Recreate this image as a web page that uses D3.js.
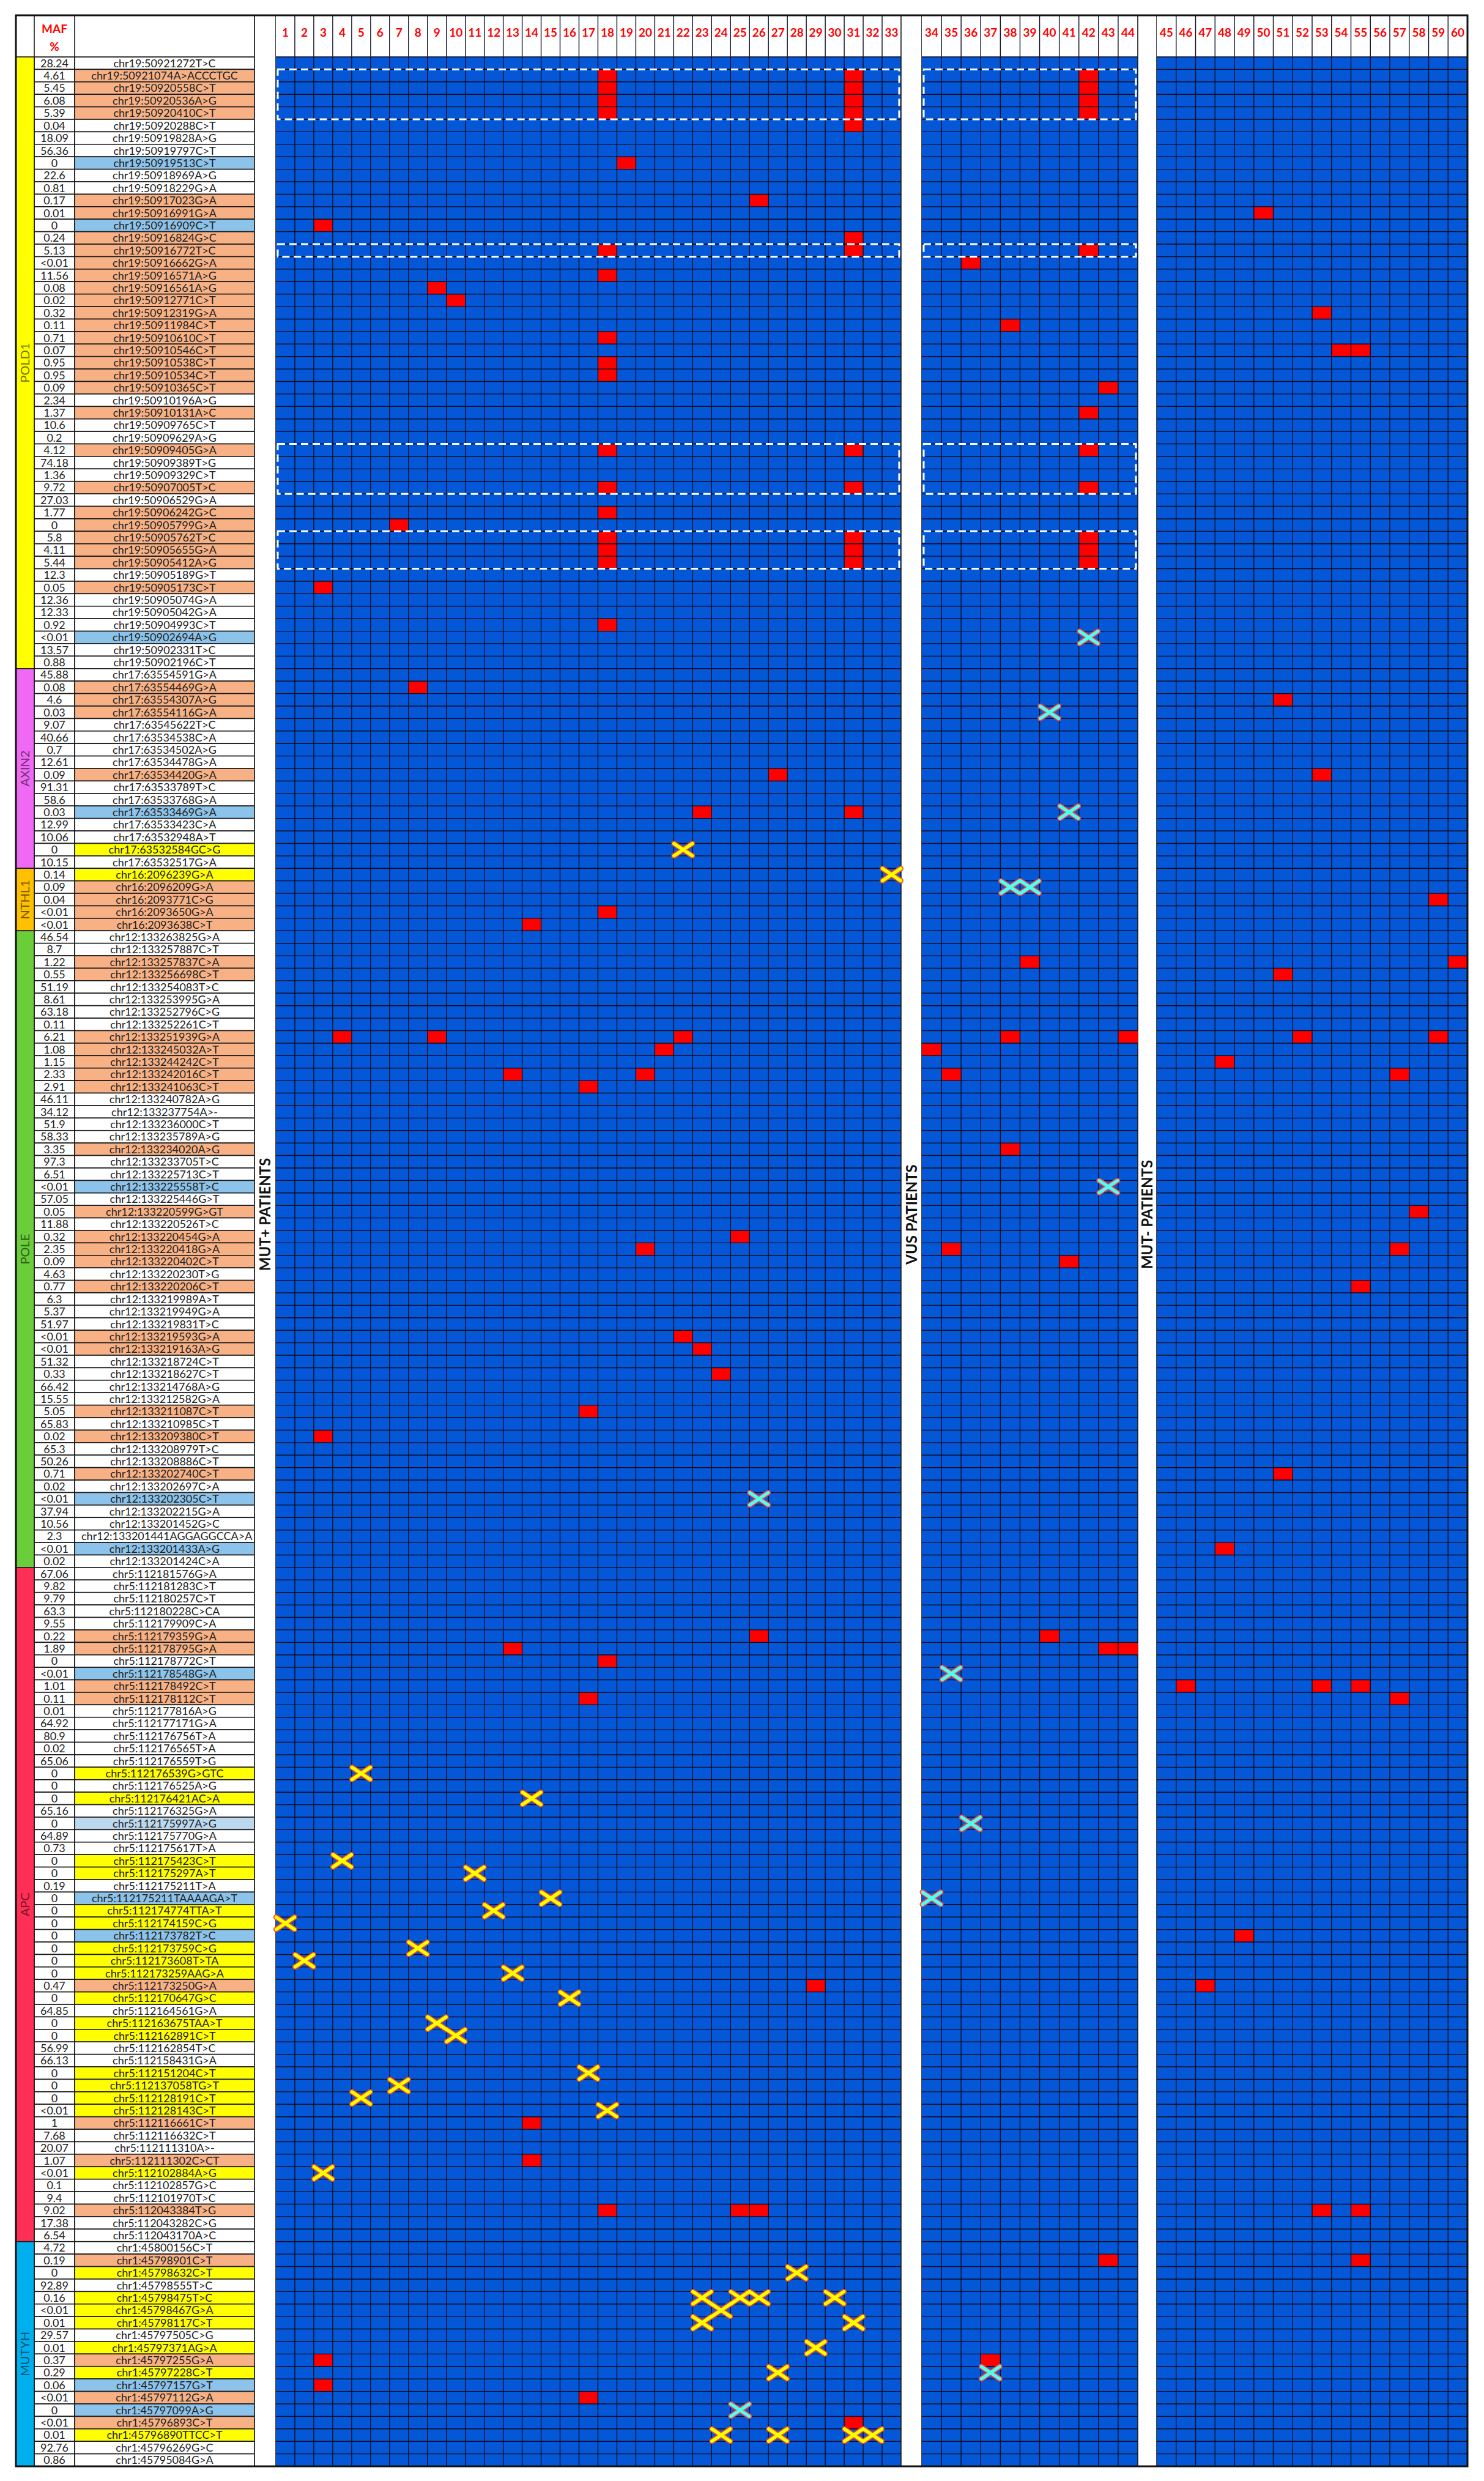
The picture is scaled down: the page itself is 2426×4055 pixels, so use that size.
<!DOCTYPE html>
<html>
<head>
<meta charset="utf-8">
<script src="https://cdn.jsdelivr.net/npm/d3@7"></script>
<style>
  body { margin: 0; background: #fff; }
  text { font-family: Lato, "Open Sans", "Liberation Sans", sans-serif; }
</style>
</head>
<body>
<svg id="chart"></svg>
<script>

// genes and how many variant rows each one has
var genes = ['POLD1', 'AXIN2', 'NTHL1', 'POLE', 'APC', 'MUTYH'];
var geneRows = [49, 16, 5, 51, 54, 18];

var mafs = [
    // POLD1
    '28.24','4.61','5.45','6.08','5.39','0.04','18.09','56.36','0','22.6',
    '0.81','0.17','0.01','0','0.24','5.13','<0.01','11.56','0.08','0.02',
    '0.32','0.11','0.71','0.07','0.95','0.95','0.09','2.34','1.37','10.6',
    '0.2','4.12','74.18','1.36','9.72','27.03','1.77','0','5.8','4.11',
    '5.44','12.3','0.05','12.36','12.33','0.92','<0.01','13.57','0.88',
    // AXIN2
    '45.88','0.08','4.6','0.03','9.07','40.66','0.7','12.61','0.09','91.31',
    '58.6','0.03','12.99','10.06','0','10.15',
    // NTHL1
    '0.14','0.09','0.04','<0.01','<0.01',
    // POLE
    '46.54','8.7','1.22','0.55','51.19','8.61','63.18','0.11','6.21','1.08',
    '1.15','2.33','2.91','46.11','34.12','51.9','58.33','3.35','97.3','6.51',
    '<0.01','57.05','0.05','11.88','0.32','2.35','0.09','4.63','0.77','6.3',
    '5.37','51.97','<0.01','<0.01','51.32','0.33','66.42','15.55','5.05','65.83',
    '0.02','65.3','50.26','0.71','0.02','<0.01','37.94','10.56','2.3','<0.01',
    '0.02',
    // APC
    '67.06','9.82','9.79','63.3','9.55','0.22','1.89','0','<0.01','1.01',
    '0.11','0.01','64.92','80.9','0.02','65.06','0','0','0','65.16',
    '0','64.89','0.73','0','0','0.19','0','0','0','0',
    '0','0','0','0.47','0','64.85','0','0','56.99','66.13',
    '0','0','0','<0.01','1','7.68','20.07','1.07','<0.01','0.1',
    '9.4','9.02','17.38','6.54',
    // MUTYH
    '4.72','0.19','0','92.89','0.16','<0.01','0.01','29.57','0.01','0.37',
    '0.29','0.06','<0.01','0','<0.01','0.01','92.76','0.86'
];

var variants = [
    // POLD1
    'chr19:50921272T>C','chr19:50921074A>ACCCTGC','chr19:50920558C>T','chr19:50920536A>G','chr19:50920410C>T',
    'chr19:50920288C>T','chr19:50919828A>G','chr19:50919797C>T','chr19:50919513C>T','chr19:50918969A>G',
    'chr19:50918229G>A','chr19:50917023G>A','chr19:50916991G>A','chr19:50916909C>T','chr19:50916824G>C',
    'chr19:50916772T>C','chr19:50916662G>A','chr19:50916571A>G','chr19:50916561A>G','chr19:50912771C>T',
    'chr19:50912319G>A','chr19:50911984C>T','chr19:50910610C>T','chr19:50910546C>T','chr19:50910538C>T',
    'chr19:50910534C>T','chr19:50910365C>T','chr19:50910196A>G','chr19:50910131A>C','chr19:50909765C>T',
    'chr19:50909629A>G','chr19:50909405G>A','chr19:50909389T>G','chr19:50909329C>T','chr19:50907005T>C',
    'chr19:50906529G>A','chr19:50906242G>C','chr19:50905799G>A','chr19:50905762T>C','chr19:50905655G>A',
    'chr19:50905412A>G','chr19:50905189G>T','chr19:50905173C>T','chr19:50905074G>A','chr19:50905042G>A',
    'chr19:50904993C>T','chr19:50902694A>G','chr19:50902331T>C','chr19:50902196C>T',
    // AXIN2
    'chr17:63554591G>A','chr17:63554469G>A','chr17:63554307A>G','chr17:63554116G>A','chr17:63545622T>C',
    'chr17:63534538C>A','chr17:63534502A>G','chr17:63534478G>A','chr17:63534420G>A','chr17:63533789T>C',
    'chr17:63533768G>A','chr17:63533469G>A','chr17:63533423C>A','chr17:63532948A>T','chr17:63532584GC>G',
    'chr17:63532517G>A',
    // NTHL1
    'chr16:2096239G>A','chr16:2096209G>A','chr16:2093771C>G','chr16:2093650G>A','chr16:2093638C>T',
    // POLE
    'chr12:133263825G>A','chr12:133257887C>T','chr12:133257837C>A','chr12:133256698C>T','chr12:133254083T>C',
    'chr12:133253995G>A','chr12:133252796C>G','chr12:133252261C>T','chr12:133251939G>A','chr12:133245032A>T',
    'chr12:133244242C>T','chr12:133242016C>T','chr12:133241063C>T','chr12:133240782A>G','chr12:133237754A>-',
    'chr12:133236000C>T','chr12:133235789A>G','chr12:133234020A>G','chr12:133233705T>C','chr12:133225713C>T',
    'chr12:133225558T>C','chr12:133225446G>T','chr12:133220599G>GT','chr12:133220526T>C','chr12:133220454G>A',
    'chr12:133220418G>A','chr12:133220402C>T','chr12:133220230T>G','chr12:133220206C>T','chr12:133219989A>T',
    'chr12:133219949G>A','chr12:133219831T>C','chr12:133219593G>A','chr12:133219163A>G','chr12:133218724C>T',
    'chr12:133218627C>T','chr12:133214768A>G','chr12:133212582G>A','chr12:133211087C>T','chr12:133210985C>T',
    'chr12:133209380C>T','chr12:133208979T>C','chr12:133208886C>T','chr12:133202740C>T','chr12:133202697C>A',
    'chr12:133202305C>T','chr12:133202215G>A','chr12:133201452G>C','chr12:133201441AGGAGGCCA>A','chr12:133201433A>G',
    'chr12:133201424C>A',
    // APC
    'chr5:112181576G>A','chr5:112181283C>T','chr5:112180257C>T','chr5:112180228C>CA','chr5:112179909C>A',
    'chr5:112179359G>A','chr5:112178795G>A','chr5:112178772C>T','chr5:112178548G>A','chr5:112178492C>T',
    'chr5:112178112C>T','chr5:112177816A>G','chr5:112177171G>A','chr5:112176756T>A','chr5:112176565T>A',
    'chr5:112176559T>G','chr5:112176539G>GTC','chr5:112176525A>G','chr5:112176421AC>A','chr5:112176325G>A',
    'chr5:112175997A>G','chr5:112175770G>A','chr5:112175617T>A','chr5:112175423C>T','chr5:112175297A>T',
    'chr5:112175211T>A','chr5:112175211TAAAAGA>T','chr5:112174774TTA>T','chr5:112174159C>G','chr5:112173782T>C',
    'chr5:112173759C>G','chr5:112173608T>TA','chr5:112173259AAG>A','chr5:112173250G>A','chr5:112170647G>C',
    'chr5:112164561G>A','chr5:112163675TAA>T','chr5:112162891C>T','chr5:112162854T>C','chr5:112158431G>A',
    'chr5:112151204C>T','chr5:112137058TG>T','chr5:112128191C>T','chr5:112128143C>T','chr5:112116661C>T',
    'chr5:112116632C>T','chr5:112111310A>-','chr5:112111302C>CT','chr5:112102884A>G','chr5:112102857G>C',
    'chr5:112101970T>C','chr5:112043384T>G','chr5:112043282C>G','chr5:112043170A>C',
    // MUTYH
    'chr1:45800156C>T','chr1:45798901C>T','chr1:45798632C>T','chr1:45798555T>C','chr1:45798475T>C',
    'chr1:45798467G>A','chr1:45798117C>T','chr1:45797505C>G','chr1:45797371AG>A','chr1:45797255G>A',
    'chr1:45797228C>T','chr1:45797157G>T','chr1:45797112G>A','chr1:45797099A>G','chr1:45796893C>T',
    'chr1:45796890TTCC>T','chr1:45796269G>C','chr1:45795084G>A'
];

// highlight class of each variant cell: w none, o orange, b blue, l pale blue, y yellow
var variantClass = (
    'woooowwwbw' + 'wooboooooo' + 'ooooooowow' + 'wowwowoooo' + 'owowwwbww' +
    'wooowwwwowwbwwyw' +
    'yoooo' +
    'wwoowwwwoo' + 'ooowwwwoww' + 'bwowooowow' + 'wwoowwwwow' + 'owwowbwwwb' + 'w' +
    'wwwwwoowbo' + 'owwwwwywyw' + 'lwwyywbyyb' + 'yyyoywyyww' + 'yyyyowwoyw' + 'woww' +
    'woywyyywyo' + 'yboboyww'
).split('');

var groupLabels = ['MUT+ PATIENTS', 'VUS PATIENTS', 'MUT- PATIENTS'];
var patientsMutPos = [1,2,3,4,5,6,7,8,9,10,11,12,13,14,15,16,17,18,19,20,21,22,23,24,25,26,27,28,29,30,31,32,33];
var patientsVus = [34,35,36,37,38,39,40,41,42,43,44];
var patientsMutNeg = [45,46,47,48,49,50,51,52,53,54,55,56,57,58,59,60];

// [variant row (1-based), patient]
var redCells = [
    [2,18],[3,18],[4,18],[5,18],[2,31],[3,31],[4,31],[5,31],[6,31],[2,42],[3,42],[4,42],[5,42],
    [9,19],[12,26],[13,50],[14,3],[16,18],[15,31],[16,31],[16,42],
    [17,36],[18,18],[19,9],[20,10],[21,53],[22,38],[23,18],[24,54],[24,55],[25,18],[26,18],[27,43],[29,42],
    [32,18],[32,31],[32,42],[35,18],[35,31],[35,42],[37,18],[38,7],
    [39,18],[40,18],[41,18],[39,31],[40,31],[41,31],[39,42],[40,42],[41,42],
    [43,3],[46,18],[51,8],[52,51],[58,27],[58,53],[61,23],[61,31],
    [68,59],[69,18],[70,14],[73,39],[73,60],[74,51],
    [79,4],[79,9],[79,22],[79,38],[79,44],[79,52],[79,59],
    [80,21],[80,34],[81,48],[82,13],[82,20],[82,35],[82,57],[83,17],
    [88,38],[93,58],[95,25],[96,20],[96,35],[96,57],[97,41],[99,55],
    [103,22],[104,23],[106,24],[109,17],[111,3],[114,51],[120,48],
    [127,26],[127,40],[128,13],[128,43],[128,44],[129,18],[131,46],[131,53],[131,55],[132,17],[132,57],
    [151,49],[155,29],[155,47],[166,14],[169,14],
    [173,18],[173,25],[173,26],[173,53],[173,55],
    [177,43],[177,55],[185,3],[185,37],[187,3],[188,17],[190,31]
];

var yellowCrosses = [
    [64,22],[66,33],[138,5],[140,14],[145,4],[146,11],[148,15],[149,12],[150,1],[152,8],[153,2],
    [154,13],[156,16],[158,9],[159,10],[162,17],[163,7],[164,5],[165,18],[170,3],
    [178,28],[180,23],[180,25],[180,26],[180,30],[181,24],[182,23],[182,31],[184,29],[186,27],
    [191,24],[191,27],[191,31],[191,32]
];

var cyanCrosses = [
    [47,42],[53,40],[61,41],[67,38],[67,39],[91,43],[116,26],[130,35],[142,36],[148,34],[186,37],[189,25]
];

// row ranges boxed with a white dashed line (patients 1-44 only)
var dashedGroups = [[2,5],[16,16],[32,35],[39,41]];


var W = 2426, H = 4055;
var LEFT = 26, RIGHT = 2399, TOP = 25, HEAD = 93, BOTTOM = 4031;
var geneCol = [26, 56], mafCol = [56, 122], varCol = [122, 416];
var LINE = '#1a1a1a';

var geneColor = d3.scaleOrdinal()
    .domain(genes)
    .range(['#ffff00', '#f069f5', '#ffc000', '#6acd3a', '#ff2f56', '#00b0ee']);

var classFill = { w: '#ffffff', o: '#f7b185', b: '#8cc3ea', l: '#bcd8ef', y: '#ffff00' };

var blocks = [
    { label: groupLabels[0], patients: patientsMutPos, gap: [416, 451], span: [451, 1473], dashed: true },
    { label: groupLabels[1], patients: patientsVus, gap: [1473, 1507], span: [1507, 1860], dashed: true },
    { label: groupLabels[2], patients: patientsMutNeg, gap: [1860, 1891], span: [1891, 2399], dashed: false }
];

var blockOf = {};
blocks.forEach(function(b) {
    b.x = d3.scaleBand().domain(b.patients).range(b.span);
    b.patients.forEach(function(p) { blockOf[p] = b; });
});

function px(p) { return blockOf[p].x(p); }
function pw(p) { return blockOf[p].x.bandwidth(); }

var y = d3.scaleBand()
    .domain(d3.range(variants.length))
    .range([HEAD, BOTTOM]);

var bh = y.bandwidth();

var svg = d3.select('#chart')
    .attr('width', W)
    .attr('height', H);

svg.append('rect').attr('width', W).attr('height', H).attr('fill', '#fff');

svg.append('clipPath').attr('id', 'varclip')
    .append('rect')
    .attr('x', varCol[0]).attr('y', HEAD)
    .attr('width', varCol[1] - varCol[0]).attr('height', BOTTOM - HEAD);


// ---- left table: MAF and variant name ----

var rows = svg.append('g').selectAll('g')
    .data(variants)
    .enter().append('g');

rows.append('rect')
    .attr('x', mafCol[0])
    .attr('y', function(d, i) { return y(i); })
    .attr('width', mafCol[1] - mafCol[0])
    .attr('height', bh)
    .attr('fill', '#fff')
    .attr('stroke', LINE)
    .attr('stroke-width', 1.6);

rows.append('rect')
    .attr('x', varCol[0])
    .attr('y', function(d, i) { return y(i); })
    .attr('width', varCol[1] - varCol[0])
    .attr('height', bh)
    .attr('fill', function(d, i) { return classFill[variantClass[i]]; })
    .attr('stroke', LINE)
    .attr('stroke-width', 1.6);

rows.append('text')
    .attr('x', (mafCol[0] + mafCol[1]) / 2)
    .attr('y', function(d, i) { return y(i) + bh / 2; })
    .attr('dy', '0.36em')
    .attr('text-anchor', 'middle')
    .attr('font-size', 18)
    .attr('fill', '#222')
    .text(function(d, i) { return mafs[i]; });

rows.append('text')
    .attr('x', function(d) { return d.length > 24 ? varCol[0] + 11 : (varCol[0] + varCol[1]) / 2; })
    .attr('y', function(d, i) { return y(i) + bh / 2; })
    .attr('dy', '0.36em')
    .attr('text-anchor', function(d) { return d.length > 24 ? 'start' : 'middle'; })
    .attr('font-size', 18)
    .attr('fill', '#222')
    .attr('clip-path', 'url(#varclip)')
    .text(function(d) { return d; });


// ---- gene colour bars ----

var geneStart = [];
var acc = 0;
geneRows.forEach(function(n) { geneStart.push(acc); acc += n; });

var geneG = svg.append('g').selectAll('g')
    .data(genes)
    .enter().append('g');

geneG.append('rect')
    .attr('x', geneCol[0])
    .attr('y', function(d, i) { return y(geneStart[i]); })
    .attr('width', geneCol[1] - geneCol[0])
    .attr('height', function(d, i) { return geneRows[i] * bh; })
    .attr('fill', function(d) { return geneColor(d); })
    .attr('stroke', LINE)
    .attr('stroke-width', 1.6);

geneG.append('text')
    .attr('transform', function(d, i) {
        var cy = y(geneStart[i]) + geneRows[i] * bh / 2;
        return 'translate(' + ((geneCol[0] + geneCol[1]) / 2) + ',' + cy + ') rotate(-90)';
    })
    .attr('dy', '0.36em')
    .attr('text-anchor', 'middle')
    .attr('font-size', 20)
    .attr('fill', function(d) { return d3.color(geneColor(d)).darker(2.2); })
    .text(function(d) { return d; });


// ---- header of left table ----

var head = svg.append('g');

head.append('rect')
    .attr('x', mafCol[0]).attr('y', TOP)
    .attr('width', varCol[1] - mafCol[0]).attr('height', HEAD - TOP)
    .attr('fill', '#fff').attr('stroke', LINE).attr('stroke-width', 1.6);

head.append('line')
    .attr('x1', mafCol[1]).attr('x2', mafCol[1])
    .attr('y1', TOP).attr('y2', HEAD)
    .attr('stroke', LINE).attr('stroke-width', 1.6);

head.append('text')
    .attr('x', (mafCol[0] + mafCol[1]) / 2).attr('y', 54)
    .attr('text-anchor', 'middle')
    .attr('font-size', 19).attr('font-weight', 'bold')
    .attr('fill', '#ff0000')
    .text('MAF');

head.append('text')
    .attr('x', (mafCol[0] + mafCol[1]) / 2).attr('y', 83)
    .attr('text-anchor', 'middle')
    .attr('font-size', 19).attr('font-weight', 'bold')
    .attr('fill', '#ff0000')
    .text('%');


// ---- patient blocks ----

blocks.forEach(function(b) {

    var g = svg.append('g');

    // gap column with rotated label
    g.append('rect')
        .attr('x', b.gap[0]).attr('y', TOP)
        .attr('width', b.gap[1] - b.gap[0]).attr('height', BOTTOM - TOP)
        .attr('fill', '#fff').attr('stroke', LINE).attr('stroke-width', 1.6);

    g.append('text')
        .attr('transform', 'translate(' + ((b.gap[0] + b.gap[1]) / 2) + ',1985) rotate(-90)')
        .attr('dy', '0.36em')
        .attr('text-anchor', 'middle')
        .attr('font-size', 24)
        .attr('font-weight', 'bold')
        .attr('fill', '#111')
        .text(b.label);

    // header cells
    g.append('rect')
        .attr('x', b.span[0]).attr('y', TOP)
        .attr('width', b.span[1] - b.span[0]).attr('height', HEAD - TOP)
        .attr('fill', '#fff');

    g.selectAll('.num')
        .data(b.patients)
        .enter().append('text')
        .attr('x', function(p) { return b.x(p) + b.x.bandwidth() / 2; })
        .attr('y', 60)
        .attr('text-anchor', 'middle')
        .attr('font-size', 19)
        .attr('font-weight', 'bold')
        .attr('fill', '#ff0000')
        .text(function(p) { return p; });

    // blue body
    g.append('rect')
        .attr('x', b.span[0]).attr('y', HEAD)
        .attr('width', b.span[1] - b.span[0]).attr('height', BOTTOM - HEAD)
        .attr('fill', '#0458d8');
});

// red cells
svg.append('g').selectAll('rect')
    .data(redCells)
    .enter().append('rect')
    .attr('x', function(d) { return px(d[1]); })
    .attr('y', function(d) { return y(d[0] - 1); })
    .attr('width', function(d) { return pw(d[1]); })
    .attr('height', bh)
    .attr('fill', '#ff0000');

// grid lines
blocks.forEach(function(b) {

    var g = svg.append('g')
        .attr('stroke', '#0b0b1e')
        .attr('stroke-width', 1.4);

    g.selectAll('.h')
        .data(d3.range(variants.length + 1))
        .enter().append('line')
        .attr('x1', b.span[0]).attr('x2', b.span[1])
        .attr('y1', function(i) { return HEAD + i * bh; })
        .attr('y2', function(i) { return HEAD + i * bh; });

    g.selectAll('.v')
        .data(b.patients.slice(1))
        .enter().append('line')
        .attr('x1', function(p) { return b.x(p); })
        .attr('x2', function(p) { return b.x(p); })
        .attr('y1', TOP).attr('y2', BOTTOM);

    if (!b.dashed) return;

    // dashed boxes
    g.selectAll('.dash')
        .data(dashedGroups)
        .enter().append('rect')
        .attr('x', b.span[0] + 3)
        .attr('y', function(d) { return y(d[0] - 1); })
        .attr('width', b.span[1] - b.span[0] - 6)
        .attr('height', function(d) { return (d[1] - d[0] + 1) * bh; })
        .attr('fill', 'none')
        .attr('stroke', '#fff')
        .attr('stroke-width', 3)
        .attr('stroke-dasharray', '12,7');
});

// crosses
function crossPath(d) {
    var cx = px(d[1]) + pw(d[1]) / 2;
    var cy = y(d[0] - 1) + bh / 2;
    var hw = 15, hh = 10;
    return 'M' + (cx - hw) + ',' + (cy - hh) + 'L' + (cx + hw) + ',' + (cy + hh) +
        'M' + (cx - hw) + ',' + (cy + hh) + 'L' + (cx + hw) + ',' + (cy - hh);
}

function drawCrosses(data, outline, fill) {
    var g = svg.append('g');
    g.selectAll('.o').data(data).enter().append('path')
        .attr('d', crossPath)
        .attr('stroke', outline).attr('stroke-width', 9)
        .attr('stroke-linecap', 'round').attr('fill', 'none');
    g.selectAll('.f').data(data).enter().append('path')
        .attr('d', crossPath)
        .attr('stroke', fill).attr('stroke-width', 5.5)
        .attr('stroke-linecap', 'round').attr('fill', 'none');
}

drawCrosses(yellowCrosses, '#f04a1c', '#ffff00');
drawCrosses(cyanCrosses, '#ff3a3a', '#4dfff0');

// outer frame
svg.append('rect')
    .attr('x', LEFT).attr('y', TOP)
    .attr('width', RIGHT - LEFT).attr('height', BOTTOM - TOP)
    .attr('fill', 'none')
    .attr('stroke', '#111')
    .attr('stroke-width', 3);

</script>
</body>
</html>
